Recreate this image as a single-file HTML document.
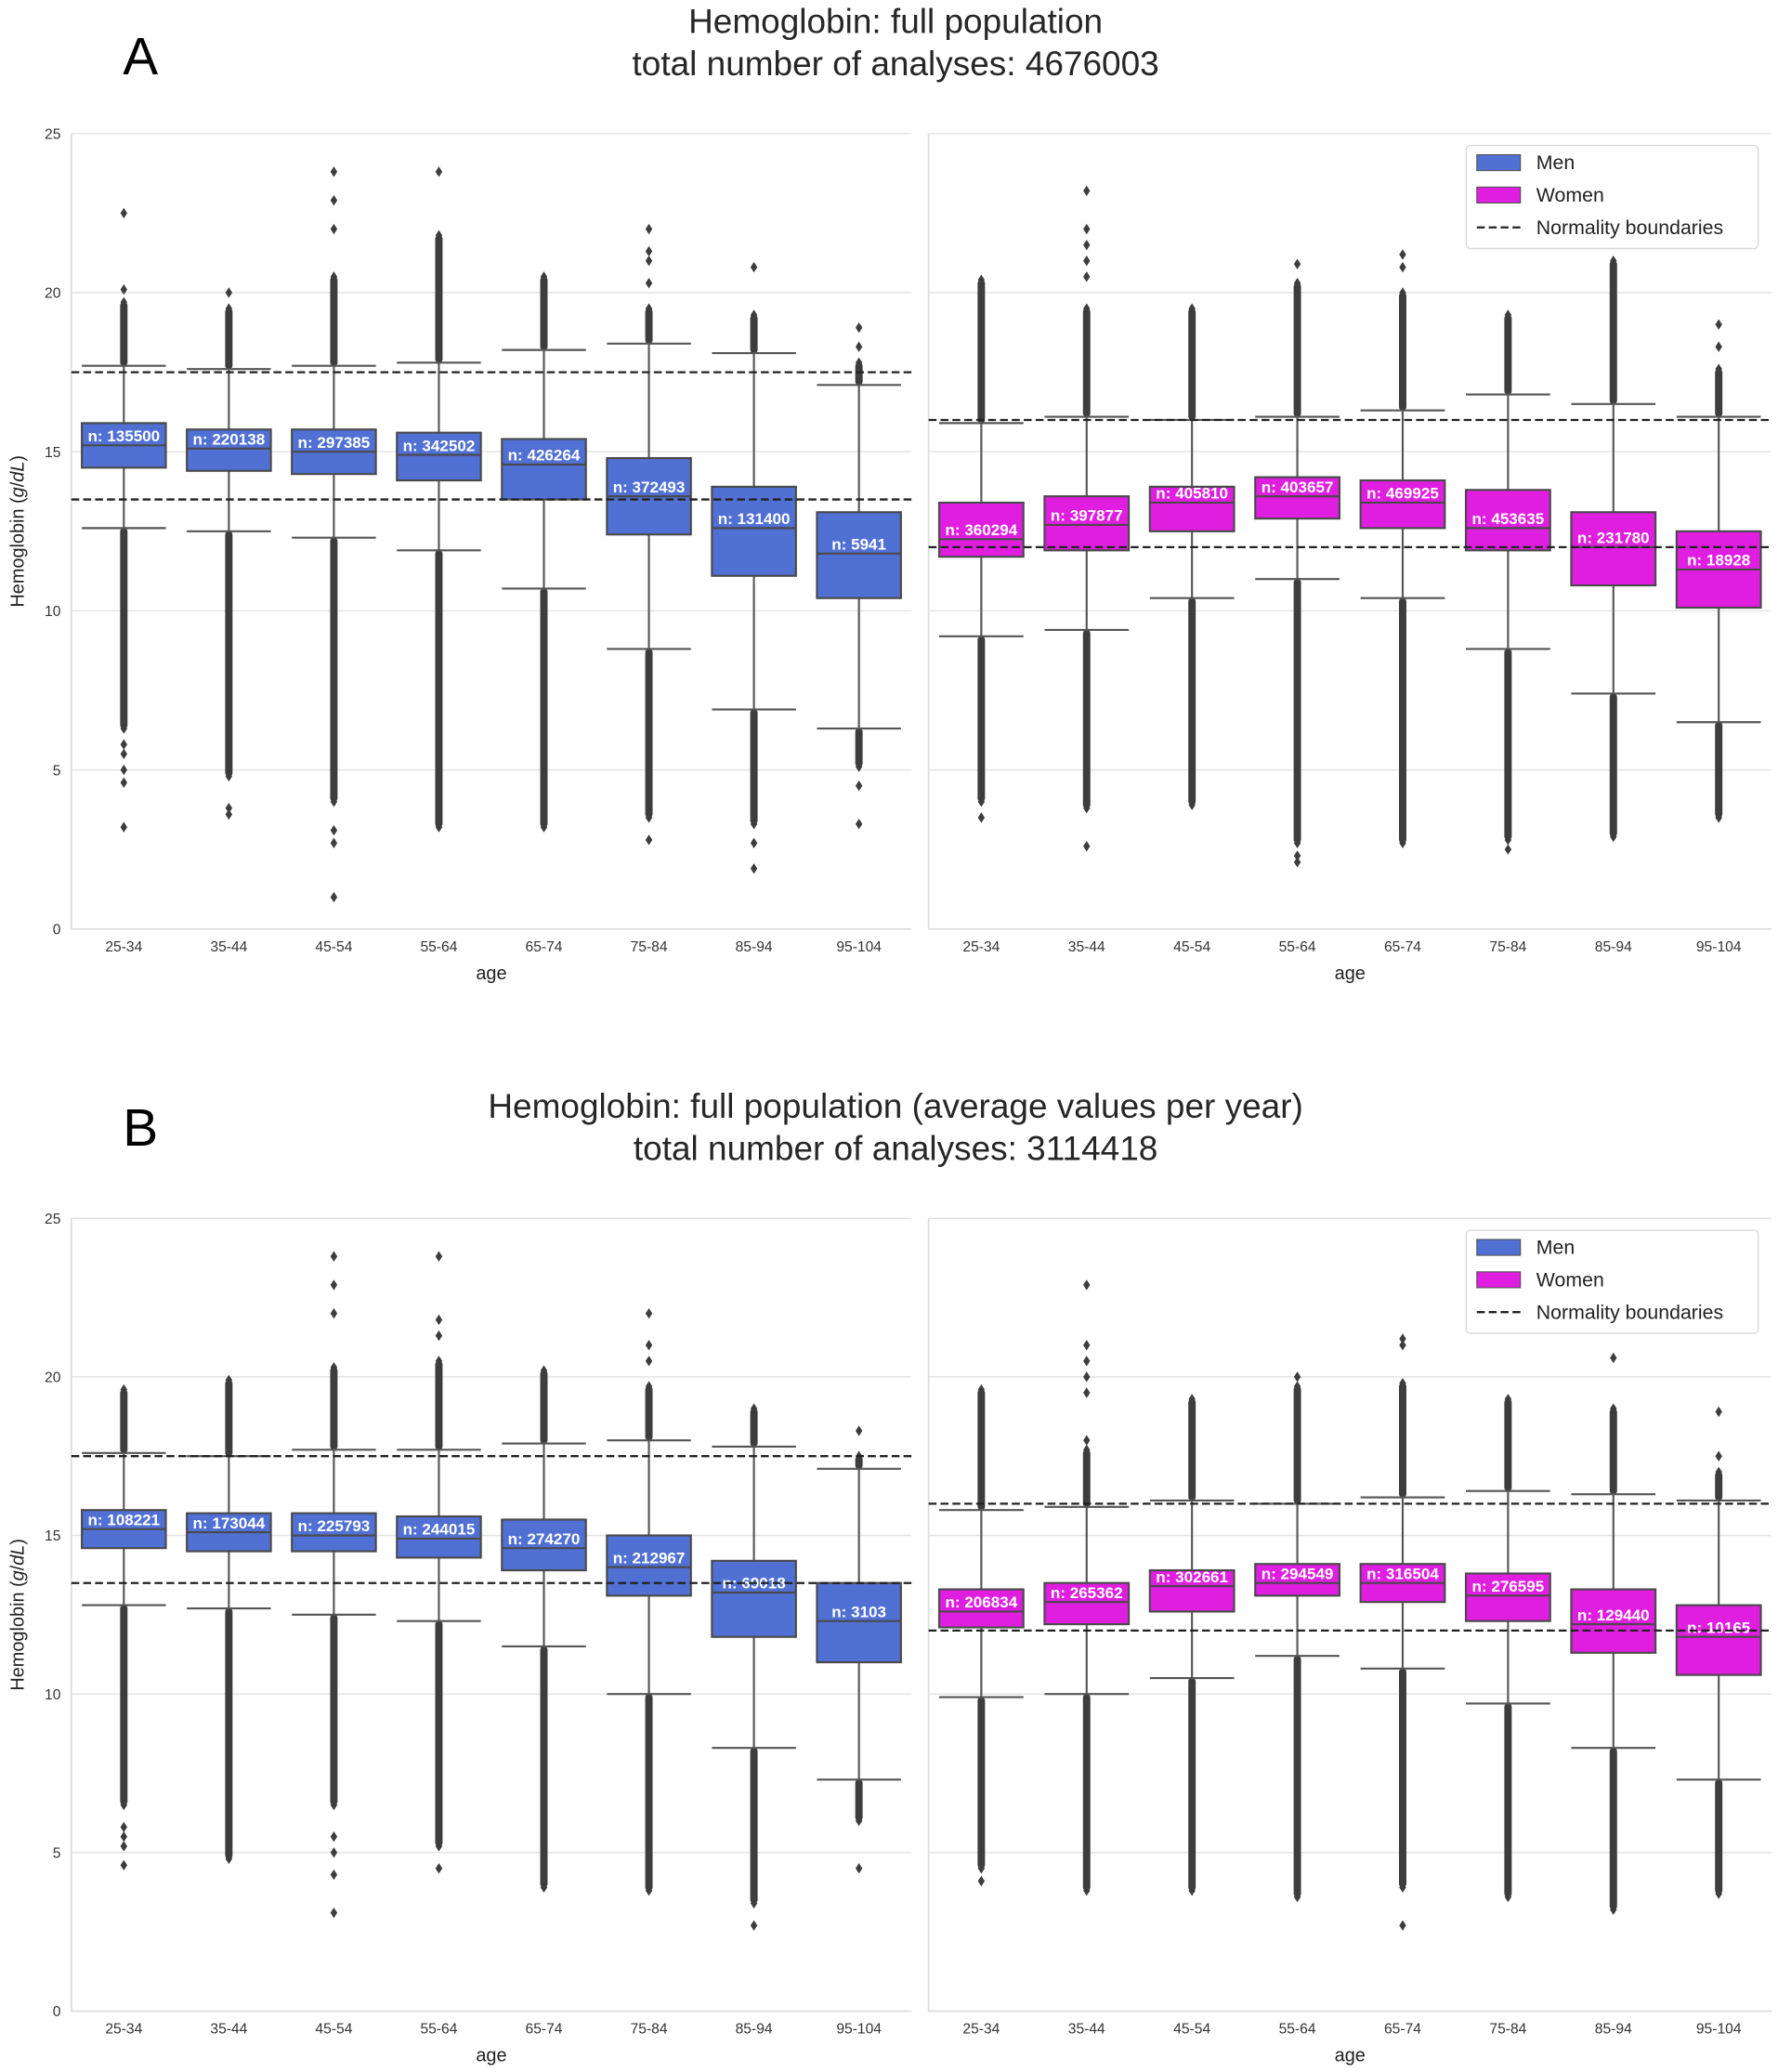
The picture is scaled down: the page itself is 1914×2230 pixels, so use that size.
<!DOCTYPE html>
<html><head><meta charset="utf-8"><style>
html,body{margin:0;padding:0;background:#fff}
svg{display:block}
text{font-family:"Liberation Sans","DejaVu Sans",sans-serif}
</style></head><body>
<svg id="fig" xmlns="http://www.w3.org/2000/svg" width="1914" height="2230" viewBox="0 0 1346 1568">
<rect width="1346" height="1568" fill="#fff"/>
<text x="93" y="56" font-size="40">A</text>
<text x="678" y="25" font-size="26" text-anchor="middle" fill="#262626">Hemoglobin: full population</text>
<text x="678" y="57" font-size="26" text-anchor="middle" fill="#262626">total number of analyses: 4676003</text>
<text x="93" y="867" font-size="40">B</text>
<text x="678" y="846" font-size="26" text-anchor="middle" fill="#262626">Hemoglobin: full population (average values per year)</text>
<text x="678" y="878" font-size="26" text-anchor="middle" fill="#262626">total number of analyses: 3114418</text>
<g id="plots"></g>
</svg>
<script>
const categories = ["25-34","35-44","45-54","55-64","65-74","75-84","85-94","95-104"];
const yTicks = [0,5,10,15,20,25];

// Panel A men
const menA_q1 = [14.5,14.4,14.3,14.1,13.5,12.4,11.1,10.4];
const menA_med = [15.2,15.1,15.0,14.9,14.6,13.6,12.6,11.8];
const menA_q3 = [15.9,15.7,15.7,15.6,15.4,14.8,13.9,13.1];
const menA_wl = [12.6,12.5,12.3,11.9,10.7,8.8,6.9,6.3];
const menA_wh = [17.7,17.6,17.7,17.8,18.2,18.4,18.1,17.1];
const menA_denseTop = [19.7,19.5,20.5,21.8,20.5,19.5,19.3,17.8];
const menA_denseLow = [6.3,4.8,4.0,3.2,3.2,3.5,3.3,5.1];
const menA_outHigh = [[20.1,22.5],[20.0],[22.0,22.9,23.8],[23.8],[],[20.3,21.0,21.3,22.0],[20.8],[18.3,18.9]];
const menA_outLow = [[5.8,5.5,5.0,4.6,3.2],[3.8,3.6],[3.1,2.7,1.0],[],[],[2.8],[2.7,1.9],[4.5,3.3]];
const menA_n = [135500,220138,297385,342502,426264,372493,131400,5941];

// Panel A women
const womenA_q1 = [11.7,11.9,12.5,12.9,12.6,11.9,10.8,10.1];
const womenA_med = [12.25,12.7,13.4,13.6,13.4,12.6,12.0,11.3];
const womenA_q3 = [13.4,13.6,13.9,14.2,14.1,13.8,13.1,12.5];
const womenA_wl = [9.2,9.4,10.4,11.0,10.4,8.8,7.4,6.5];
const womenA_wh = [15.9,16.1,16.0,16.1,16.3,16.8,16.5,16.1];
const womenA_denseTop = [20.4,19.5,19.5,20.3,20.0,19.3,21.0,17.6];
const womenA_denseLow = [4.0,3.8,3.9,2.7,2.7,2.8,2.9,3.5];
const womenA_outHigh = [[],[20.5,21.0,21.5,22.0,23.2],[],[20.9],[20.8,21.2],[],[],[18.3,19.0]];
const womenA_outLow = [[3.5],[2.6],[],[2.3,2.1],[],[2.5],[],[]];
const womenA_n = [360294,397877,405810,403657,469925,453635,231780,18928];

// Panel B men
const menB_q1 = [14.6,14.5,14.5,14.3,13.9,13.1,11.8,11.0];
const menB_med = [15.2,15.1,15.0,14.9,14.6,14.0,13.2,12.3];
const menB_q3 = [15.8,15.7,15.7,15.6,15.5,15.0,14.2,13.5];
const menB_wl = [12.8,12.7,12.5,12.3,11.5,10.0,8.3,7.3];
const menB_wh = [17.6,17.5,17.7,17.7,17.9,18.0,17.8,17.1];
const menB_denseTop = [19.6,19.9,20.3,20.5,20.2,19.7,19.0,17.5];
const menB_denseLow = [6.5,4.8,6.5,5.2,3.9,3.8,3.4,6.0];
const menB_outHigh = [[],[],[22.0,22.9,23.8],[21.3,21.8,23.8],[],[20.5,21.0,22.0],[],[18.3]];
const menB_outLow = [[5.8,5.5,5.2,4.6],[],[5.5,5.0,4.3,3.1],[4.5],[],[],[2.7],[4.5]];
const menB_n = [108221,173044,225793,244015,274270,212967,69018,3103];

// Panel B women
const womenB_q1 = [12.1,12.2,12.6,13.1,12.9,12.3,11.3,10.6];
const womenB_med = [12.6,12.9,13.4,13.5,13.5,13.1,12.2,11.8];
const womenB_q3 = [13.3,13.5,13.9,14.1,14.1,13.8,13.3,12.8];
const womenB_wl = [9.9,10.0,10.5,11.2,10.8,9.7,8.3,7.3];
const womenB_wh = [15.8,15.9,16.1,16.0,16.2,16.4,16.3,16.1];
const womenB_denseTop = [19.6,17.7,19.3,19.7,19.8,19.3,19.0,17.0];
const womenB_denseLow = [4.5,3.8,3.8,3.6,3.9,3.6,3.2,3.7];
const womenB_outHigh = [[],[18.0,19.5,20.0,20.5,21.0,22.9],[],[20.0],[21.0,21.2],[],[20.6],[17.5,18.9]];
const womenB_outLow = [[4.1],[],[],[],[2.7],[],[],[]];
const womenB_n = [206834,265362,302661,294549,316504,276595,129440,10165];

const menNorm = [13.5,17.5];
const womenNorm = [12.0,16.0];

const NS = "http://www.w3.org/2000/svg";
const root = document.getElementById('plots');
function mk(tag, attrs, parent){
  const e = document.createElementNS(NS, tag);
  for (const k in attrs) e.setAttribute(k, attrs[k]);
  (parent||root).appendChild(e);
  return e;
}
function drawPanel(cfg){
  const x0=cfg.x0, x1=cfg.x1, yTop=cfg.yTop, yBot=cfg.yBot;
  const g = mk('g',{});
  
  
  const yS = v => yBot - (v/25)*(yBot-yTop);
  const step = (x1-x0)/categories.length;
  const xS = i => x0 + step*(i+0.5);
  yTicks.forEach(t=>{
    const l = mk('line',{x1:x0,x2:x1,y1:yS(t),y2:yS(t),stroke:'#e3e3e3','stroke-width':1},g);
    
    
    if (cfg.showY){
      const tx = mk('text',{x:x0-8,y:yS(t)+4,'font-size':11,'text-anchor':'end',fill:'#333'},g);
      
      
      tx.textContent = t;
    }
  });
  const sp = mk('path',{d:`M${x0} ${yTop}V${yBot}H${x1}`,fill:'none',stroke:'#dcdcdc','stroke-width':1.2},g);
  
  
  if (cfg.showY){
    const yl = mk('text',{x:0,y:0,'font-size':14,'text-anchor':'middle',fill:'#222',transform:`translate(18,${(yTop+yBot)/2}) rotate(-90)`},g);
    
    
    yl.innerHTML = 'Hemoglobin (<tspan font-style="italic">g</tspan>/<tspan font-style="italic">dL</tspan>)';
  }
  const xl = mk('text',{x:(x0+x1)/2,y:yBot+38,'font-size':14,'text-anchor':'middle',fill:'#222'},g);
  
  
  xl.textContent='age';
  const bw = step*0.8, cap = step*0.4;
  const dark = '#3d3d3d';
  function diamond(cx, v){
    const cy=yS(v);
    const d = mk('path',{d:`M${cx} ${cy-4}L${cx+2.6} ${cy}L${cx} ${cy+4}L${cx-2.6} ${cy}Z`,fill:dark},g);
    
    
  }
  categories.forEach((c,i)=>{
    const cx = xS(i);
    const tl = mk('text',{x:cx,y:yBot+17,'font-size':11,'text-anchor':'middle',fill:'#333'},g);
    
    
    tl.textContent=c;
    const dh = mk('rect',{x:cx-2.8,y:yS(cfg.denseTop[i]),width:5.6,height:yS(cfg.wh[i])-yS(cfg.denseTop[i]),fill:dark,rx:2.5},g);
    
    
    const dl = mk('rect',{x:cx-2.8,y:yS(cfg.wl[i]),width:5.6,height:yS(cfg.denseLow[i])-yS(cfg.wl[i]),fill:dark,rx:2.5},g);
    
    
    diamond(cx,cfg.denseTop[i]); diamond(cx,cfg.denseLow[i]);
    cfg.outHigh[i].forEach(v=>diamond(cx,v));
    cfg.outLow[i].forEach(v=>diamond(cx,v));
    const w = mk('line',{x1:cx,x2:cx,y1:yS(cfg.wh[i]),y2:yS(cfg.wl[i]),stroke:'#555','stroke-width':1.5},g);
    
    
    [cfg.wh[i],cfg.wl[i]].forEach(v=>{
      const cp = mk('line',{x1:cx-cap,x2:cx+cap,y1:yS(v),y2:yS(v),stroke:'#555','stroke-width':1.5},g);
      
      
    });
    const b = mk('rect',{x:cx-bw/2,y:yS(cfg.q3[i]),width:bw,height:yS(cfg.q1[i])-yS(cfg.q3[i]),fill:cfg.color,stroke:'#4a4a4a','stroke-width':1.5},g);
    
    
    const m = mk('line',{x1:cx-bw/2,x2:cx+bw/2,y1:yS(cfg.med[i]),y2:yS(cfg.med[i]),stroke:'#4a4a4a','stroke-width':1.5},g);
    
    
    const nt = mk('text',{x:cx,y:yS(cfg.med[i])-3,'font-size':12,'font-weight':'bold','text-anchor':'middle',fill:'#fff'},g);
    
    
    nt.textContent='n: '+cfg.n[i];
  });
  cfg.norm.forEach(v=>{
    const l = mk('line',{x1:x0,x2:x1,y1:yS(v),y2:yS(v),stroke:'#222','stroke-width':1.6,'stroke-dasharray':'6,3'},g);
    
    
  });
  if (cfg.legend){
    const lg = mk('g',{},g);
    
    
    const lx = x1-231, ly = yTop+9;
    mk('rect',{x:lx,y:ly,width:221,height:78,fill:'#fff',stroke:'#d8d8d8',rx:3},lg);
    const items=[['Men','#5070d4'],['Women','#e01ee0'],['Normality boundaries',null]];
    items.forEach((it,k)=>{
      const yy = ly+13+k*24.5;
      if (it[1]){ mk('rect',{x:lx+8,y:yy-6,width:33,height:12,fill:it[1],stroke:'#555','stroke-width':0.8},lg); }
      else { mk('line',{x1:lx+8,x2:lx+41,y1:yy,y2:yy,stroke:'#222','stroke-width':1.6,'stroke-dasharray':'6,3'},lg); }
      const t = mk('text',{x:lx+53,y:yy+5,'font-size':15,fill:'#222'},lg);
      
      
      t.textContent=it[0];
    });
  }
}
drawPanel({name:'panel-a-men',x0:54,x1:690,yTop:101,yBot:703,showY:true,color:'#5070d4',q1:menA_q1,med:menA_med,q3:menA_q3,wl:menA_wl,wh:menA_wh,denseTop:menA_denseTop,denseLow:menA_denseLow,outHigh:menA_outHigh,outLow:menA_outLow,n:menA_n,norm:menNorm});
drawPanel({name:'panel-a-women',x0:703,x1:1341,yTop:101,yBot:703,showY:false,legend:true,color:'#e01ee0',q1:womenA_q1,med:womenA_med,q3:womenA_q3,wl:womenA_wl,wh:womenA_wh,denseTop:womenA_denseTop,denseLow:womenA_denseLow,outHigh:womenA_outHigh,outLow:womenA_outLow,n:womenA_n,norm:womenNorm});
drawPanel({name:'panel-b-men',x0:54,x1:690,yTop:922,yBot:1522,showY:true,color:'#5070d4',q1:menB_q1,med:menB_med,q3:menB_q3,wl:menB_wl,wh:menB_wh,denseTop:menB_denseTop,denseLow:menB_denseLow,outHigh:menB_outHigh,outLow:menB_outLow,n:menB_n,norm:menNorm});
drawPanel({name:'panel-b-women',x0:703,x1:1341,yTop:922,yBot:1522,showY:false,legend:true,color:'#e01ee0',q1:womenB_q1,med:womenB_med,q3:womenB_q3,wl:womenB_wl,wh:womenB_wh,denseTop:womenB_denseTop,denseLow:womenB_denseLow,outHigh:womenB_outHigh,outLow:womenB_outLow,n:womenB_n,norm:womenNorm});
</script>
</body></html>
